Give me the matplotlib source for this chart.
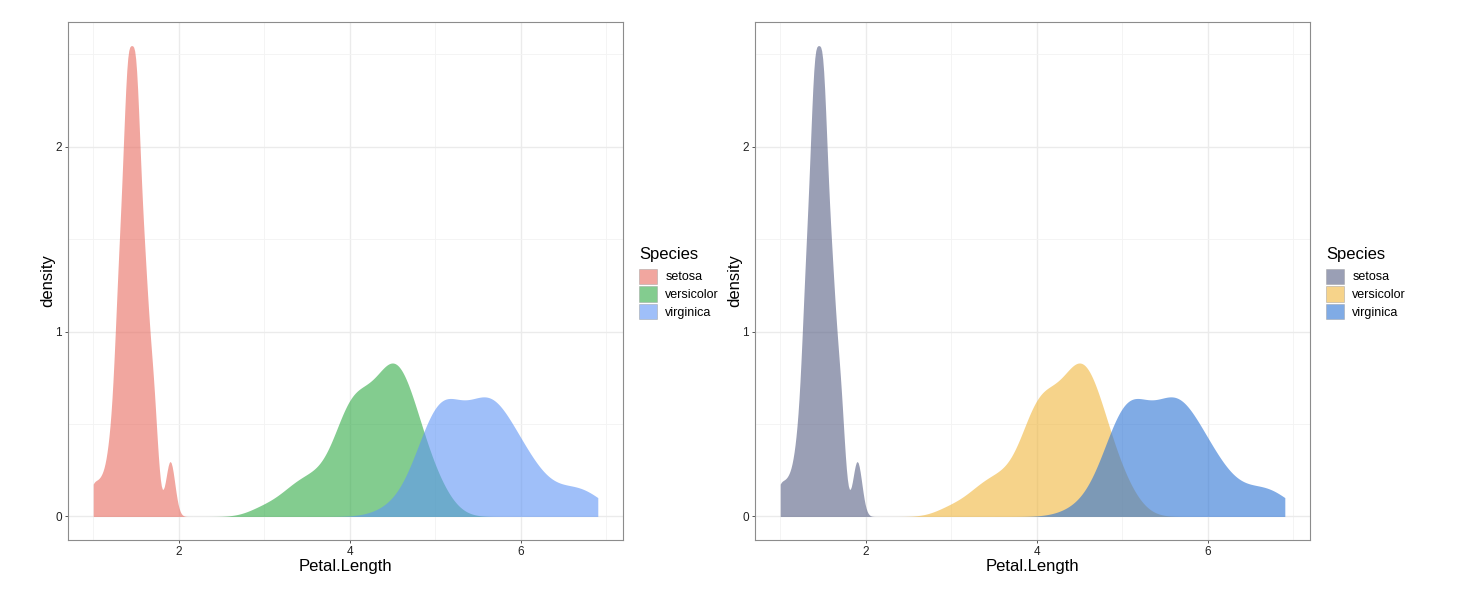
import numpy as np
import matplotlib
matplotlib.use('Agg')
import matplotlib.pyplot as plt
from matplotlib.patches import Patch

# iris Petal.Length by species
species = ['setosa', 'versicolor', 'virginica']
setosa = [1.4, 1.4, 1.3, 1.5, 1.4, 1.7, 1.4, 1.5, 1.4, 1.5, 1.5, 1.6, 1.4, 1.1, 1.2,
          1.5, 1.3, 1.4, 1.7, 1.5, 1.7, 1.5, 1.0, 1.7, 1.9, 1.6, 1.6, 1.5, 1.4, 1.6,
          1.6, 1.5, 1.5, 1.4, 1.5, 1.2, 1.3, 1.4, 1.3, 1.5, 1.3, 1.3, 1.3, 1.6, 1.9,
          1.4, 1.6, 1.4, 1.5, 1.4]
versicolor = [4.7, 4.5, 4.9, 4.0, 4.6, 4.5, 4.7, 3.3, 4.6, 3.9, 3.5, 4.2, 4.0, 4.7, 3.6,
              4.4, 4.5, 4.1, 4.5, 3.9, 4.8, 4.0, 4.9, 4.7, 4.3, 4.4, 4.8, 5.0, 4.5, 3.5,
              3.8, 3.7, 3.9, 5.1, 4.5, 4.5, 4.7, 4.4, 4.1, 4.0, 4.4, 4.6, 4.0, 3.3, 4.2,
              4.2, 4.2, 4.3, 3.0, 4.1]
virginica = [6.0, 5.1, 5.9, 5.6, 5.8, 6.6, 4.5, 6.3, 5.8, 6.1, 5.1, 5.3, 5.5, 5.0, 5.1,
             5.3, 5.5, 6.7, 6.9, 5.0, 5.7, 4.9, 6.7, 4.9, 5.7, 6.0, 4.8, 4.9, 5.6, 5.8,
             6.1, 6.4, 5.6, 5.1, 5.6, 6.1, 5.6, 5.5, 4.8, 5.4, 5.6, 5.1, 5.1, 5.9, 5.7,
             5.2, 5.0, 5.2, 5.4, 5.1]
groups = [setosa, versicolor, virginica]

left_colors = ['#E86B5F', '#30AA45', '#5F95F5']
right_colors = ['#575F84', '#F0B63C', '#2B73D5']

plt.rcParams['font.family'] = ['Liberation Sans', 'DejaVu Sans']


def bw_nrd0(x):
    x = np.asarray(x)
    hi = np.std(x, ddof=1)
    q75, q25 = np.percentile(x, [75, 25])
    lo = min(hi, (q75 - q25) / 1.34)
    return 0.9 * lo * len(x) ** -0.2


allx = np.concatenate(groups)
grid = np.linspace(allx.min(), allx.max(), 512)
dens = []
for g in groups:
    g = np.asarray(g)
    bw = bw_nrd0(g)
    d = np.exp(-0.5 * ((grid[:, None] - g[None, :]) / bw) ** 2).sum(axis=1)
    d = d / (len(g) * bw * np.sqrt(2 * np.pi))
    dens.append(d)

ymax = max(d.max() for d in dens)
xr = allx.max() - allx.min()

fig = plt.figure(figsize=(14.68, 6), dpi=100)
positions = [[0.0463, 0.1, 0.3781, 0.8633], [0.5143, 0.1, 0.3781, 0.8633]]

for pos, cols in zip(positions, [left_colors, right_colors]):
    ax = fig.add_axes(pos)
    for d, c in zip(dens, cols):
        ax.fill_between(grid, 0, d, color=c, alpha=0.6, lw=0)
    ax.set_xlim(allx.min() - 0.05 * xr, allx.max() + 0.05 * xr)
    ax.set_ylim(-0.05 * ymax, 1.05 * ymax)
    ax.set_xticks([2, 4, 6])
    ax.set_yticks([0, 1, 2])
    ax.set_xticks([1, 3, 5, 7], minor=True)
    ax.set_yticks([0.5, 1.5, 2.5], minor=True)
    ax.grid(which='major', color='#EBEBEB', lw=1.0)
    ax.grid(which='minor', color='#F3F3F3', lw=0.6)
    ax.set_axisbelow(True)
    ax.tick_params(which='major', length=2.2, width=0.7, color='#555555',
                   labelsize=8.5, labelcolor='#222222', pad=2)
    ax.tick_params(which='minor', length=0)
    for s in ax.spines.values():
        s.set_color('#8C8C8C')
        s.set_linewidth(0.8)
    ax.set_xlabel('Petal.Length', fontsize=12, labelpad=1)
    ax.set_ylabel('density', fontsize=12, labelpad=0)
    handles = [Patch(facecolor=c, alpha=0.6, edgecolor='#999999', lw=0.5) for c in cols]
    leg = ax.legend(handles, species, title='Species', loc='center left',
                    bbox_to_anchor=(1.02, 0.496), frameon=False, fontsize=9,
                    title_fontsize=12, handlelength=1.4, handleheight=1.5,
                    handletextpad=0.7, labelspacing=0.2, borderaxespad=0)
    leg._legend_box.align = 'left'
    leg._legend_box.sep = 5

fig.savefig('out.png', dpi=100, facecolor='white')
